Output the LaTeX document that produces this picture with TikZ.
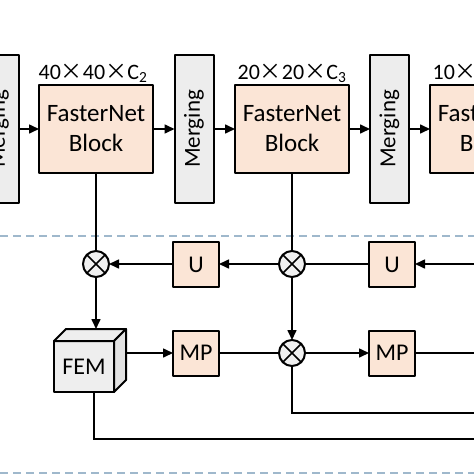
\documentclass[tikz,border=0pt]{standalone}
\usepackage{fontspec}
\setmainfont{Carlito}
\newfontfamily\cjk{Noto Sans CJK SC}
\usetikzlibrary{arrows.meta,calc}
\definecolor{peach}{HTML}{FBE5D6}
\definecolor{mgray}{HTML}{EDEDED}
\definecolor{ogray}{HTML}{F0F0F0}
\definecolor{fgray}{HTML}{EEEEEE}
\definecolor{fside}{HTML}{E2E2E2}
\definecolor{dashc}{HTML}{9FB8CC}
\newcommand{\tms}{{\cjk ×}}
\begin{document}
\begin{tikzpicture}[x=1pt,y=-1pt,
  box/.style={draw=black,line width=2pt,inner sep=0pt,outer sep=0pt,align=center,line join=round},
  fnb/.style={box,fill=peach,minimum width=114pt,minimum height=88pt,font=\fontsize{25}{30}\selectfont},
  mrg/.style={box,fill=mgray,minimum width=39pt,minimum height=148pt,font=\fontsize{23}{28}\selectfont},
  small/.style={box,fill=peach,minimum width=46pt,minimum height=45pt,font=\fontsize{24}{29}\selectfont},
  ot/.style={circle,draw=black,line width=2pt,fill=ogray,minimum size=26pt,inner sep=0pt,outer sep=0pt,
    path picture={\draw[line width=1.6pt] (path picture bounding box.south west) -- (path picture bounding box.north east)
      (path picture bounding box.north west) -- (path picture bounding box.south east);}},
  conn/.style={line width=1.6pt},
  arr/.style={conn,-{Triangle[length=10pt,width=9pt]}},
  dimlab/.style={font=\fontsize{22}{26}\selectfont,inner sep=0pt},
  dashln/.style={dashc,line width=2pt,dash pattern=on 8pt off 5pt}
]
\useasboundingbox (0,0) rectangle (474,474);
\clip (0,0) rectangle (474,474);
\fill[white] (0,0) rectangle (474,474);

% top row
\node[mrg] (m1) at (-1,129) {\rotatebox{90}{Merging}};
\node[fnb] (b1) at (96,129) {FasterNet\\Block};
\node[mrg] (m2) at (194,129) {\rotatebox{90}{Merging}};
\node[fnb] (b2) at (292,129) {FasterNet\\Block};
\node[mrg] (m3) at (389.5,129) {\rotatebox{90}{Merging}};
\node[fnb] (b3) at (487,129) {FasterNet\\Block};

\node[dimlab] (l1) at (93,73) {40\tms40\tms C\textsubscript{2}};
\node[dimlab] (l2) at (292,73) {20\tms20\tms C\textsubscript{3}};
\node[dimlab] (l3) at (487,73) {10\tms10\tms C\textsubscript{4}};

\draw[arr] (m1.east) -- (b1.west);
\draw[arr] (b1.east) -- (m2.west);
\draw[arr] (m2.east) -- (b2.west);
\draw[arr] (b2.east) -- (m3.west);
\draw[arr] (m3.east) -- (b3.west);

% dashed separators
\coordinate (d1a) at (0,236); \coordinate (d1b) at (474,236);
\coordinate (d2a) at (0,473); \coordinate (d2b) at (474,473);
\draw[dashln] (d1a) -- (d1b);
\draw[dashln] (d2a) -- (d2b);

% lower part
\node[ot] (o1) at (96,264) {};
\node[ot] (o2) at (292,264) {};
\node[ot] (o3) at (292,353) {};
\node[small] (u1) at (196,264.5) {U};
\node[small] (u2) at (392,264.5) {U};
\node[small] (mp1) at (196,353) {MP};
\node[small] (mp2) at (392,353) {MP};

% FEM cube
\node[box,fill=fgray,minimum width=60pt,minimum height=51pt,font=\fontsize{24}{29}\selectfont] (fem) at (84,366.5) {FEM};
\draw[line width=2pt,line join=round,fill=fgray] (fem.north west) -- ++(12,-12) -- ++(60,0) -- (fem.north east) -- cycle;
\draw[line width=2pt,line join=round,fill=fside] (fem.north east) -- ++(12,-12) -- ++(0,51) -- (fem.south east) -- cycle;
\coordinate (femtop) at ($(fem.north west)+(12,-12)$);
\coordinate (femside) at ($(fem.north east)+(12,12)$);
\coordinate (fembot) at ($(fem.south)+(10,0)$);

\coordinate (eU) at (480,264);
\coordinate (eMP) at (480,353);
\coordinate (eB1) at (480,413);
\coordinate (eB2) at (480,439);

\draw[conn] (b1.south) -- (o1.north);
\draw[conn] (b2.south) -- (o2.north);
\draw[arr] (u1.west |- o1) -- (o1.east);
\draw[arr] (o2.west) -- (u1.east |- o2);
\draw[conn] (u2.west |- o2) -- (o2.east);
\draw[arr] (eU) -- (u2.east |- eU);
\draw[arr] (o1.south) -- (o1 |- femtop);
\draw[arr] (o2.south) -- (o3.north);
\draw[arr] (femside) -- (mp1.west);
\draw[conn] (mp1.east) -- (o3.west);
\draw[arr] (o3.east) -- (mp2.west);
\draw[conn] (mp2.east) -- (eMP);
\draw[conn] (o3.south) |- (eB1);
\draw[conn] (fembot) |- (eB2);
\end{tikzpicture}
\end{document}
